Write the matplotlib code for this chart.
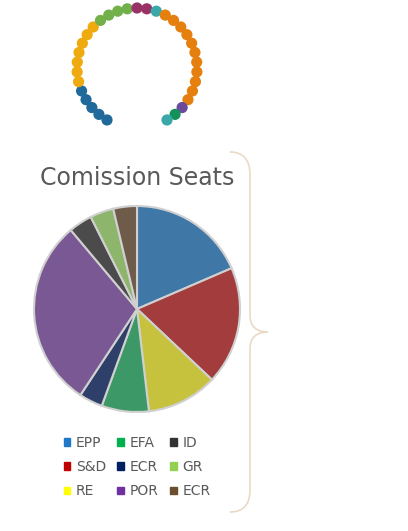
import numpy as np
import matplotlib
matplotlib.use('Agg')
from matplotlib import pyplot as plt
from matplotlib.patches import Patch, PathPatch, Circle
from matplotlib.path import Path

# parliament dots, left to right
dot_groups = ['EPP', 'RE', 'GR', 'POR', 'TEAL', 'ORANGE', 'ECR', 'EFA', 'TEAL']
dot_counts = [5, 7, 4, 2, 1, 11, 1, 1, 1]
dot_colors = {'EPP': '#1f6a9a', 'RE': '#efaa0f', 'GR': '#72b04a', 'POR': '#993366',
              'TEAL': '#3aa8a8', 'ORANGE': '#e5800f', 'ECR': '#6a4a9c', 'EFA': '#14905a'}

# commission seats
parties = ['EPP', 'S&D', 'RE', 'EFA', 'ECR', 'POR', 'ID', 'GR', 'ECR']
seats = [5, 5, 3, 2, 1, 8, 1, 1, 1]
pie_colors = ['#3f77a6', '#a33c3c', '#c6c23e', '#3c9866', '#2e3f6a', '#7a5894', '#4b4b4b', '#8db56c', '#6e5b4a']
legend_colors = ['#1f77c8', '#c00000', '#ffff00', '#00b050', '#002060', '#7030a0', '#333333', '#92d050', '#6b4e2e']

fig = plt.figure(figsize=(4.08, 5.31), dpi=100)
ax = fig.add_axes([0, 0, 1, 1])

# dots on a horseshoe
n = sum(dot_counts)
angles = np.linspace(-150, 150, n)
cols = []
for g, c in zip(dot_groups, dot_counts):
    cols += [dot_colors[g]] * c
for a, col in zip(angles, cols):
    x = 137 + 60 * np.sin(np.radians(a))
    y = 68 - 60 * np.cos(np.radians(a))
    ax.add_patch(Circle((x, y), 5.6, color=col, lw=0))

ax.text(137, 178, 'Comission Seats', ha='center', va='center', fontsize=17, color='#595959')

ax.pie(seats, colors=pie_colors, center=(137, 309), radius=103, startangle=-90,
       counterclock=True, wedgeprops=dict(edgecolor='#d0d0d0', linewidth=1.5))

# curly brace
bc = '#ead9c6'
verts = [(230, 152), (250, 152), (250, 175), (250, 315), (250, 332), (268, 332),
         (250, 332), (250, 349), (250, 490), (250, 512), (230, 512)]
codes = [Path.MOVETO, Path.CURVE3, Path.CURVE3, Path.LINETO, Path.CURVE3, Path.CURVE3,
         Path.CURVE3, Path.CURVE3, Path.LINETO, Path.CURVE3, Path.CURVE3]
ax.add_patch(PathPatch(Path(verts, codes), fill=False, edgecolor=bc, lw=1.2))

ax.set_xlim(0, 408)
ax.set_ylim(531, 0)
ax.set_aspect('auto')
ax.axis('off')

handles = [Patch(color=c, label=p) for p, c in zip(parties, legend_colors)]
fig.legend(handles=handles, ncol=3, loc='center', bbox_to_anchor=(137 / 408, 1 - 467 / 531),
           frameon=False, fontsize=10, handlelength=0.5, handleheight=0.5, handletextpad=0.4,
           columnspacing=0.8, labelspacing=0.75, labelcolor='#595959')

fig.savefig('out.png')
